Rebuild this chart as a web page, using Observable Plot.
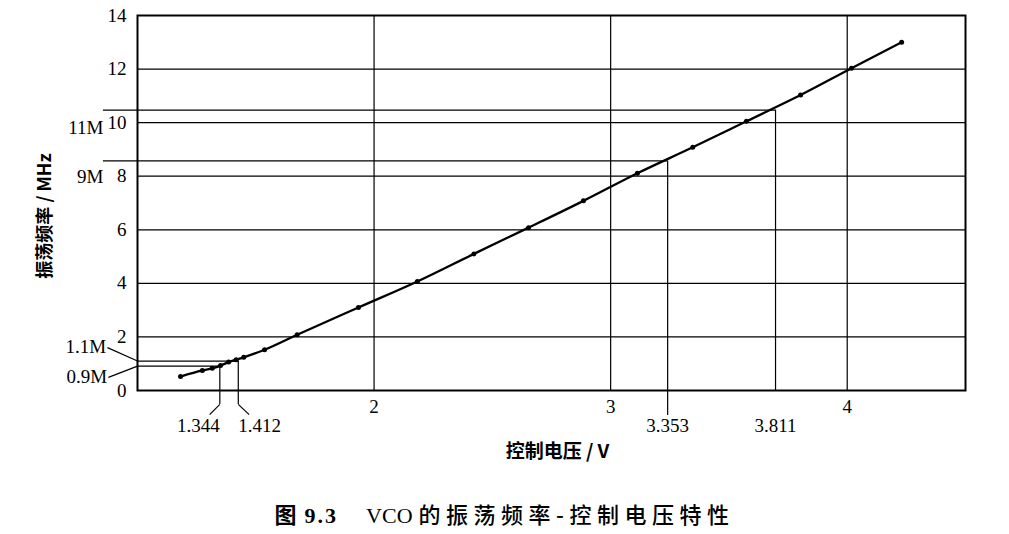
<!DOCTYPE html>
<html>
<head>
<meta charset="utf-8">
<script src="https://cdn.jsdelivr.net/npm/d3@7"></script>
<script src="https://cdn.jsdelivr.net/npm/@observablehq/plot@0.6"></script>
<style>
  html, body { margin: 0; padding: 0; background: #fff; }
  #wrap { width: 1009px; height: 534px; position: relative; overflow: hidden; }
  #caption {
    position: absolute; left: 0; top: 480px; width: 1009px; height: 54px;
    text-align: center; color: #000; white-space: nowrap;
    line-height: 26px; padding-top: 20px; box-sizing: border-box;
  }
  #caption .fig { font-family: "Noto Sans CJK SC", sans-serif; font-weight: 700; font-size: 22px; margin-right: 8px; }
  #caption .num { font-family: "Liberation Serif", serif; font-weight: 700; font-size: 22px; letter-spacing: 2px; }
  #caption .latin { font-family: "Liberation Serif", serif; font-size: 22px; margin-left: 28px; margin-right: 6px; }
  #caption .cjk { font-family: "Noto Sans CJK SC", sans-serif; font-weight: 500; font-size: 22px; letter-spacing: 5.5px; }
</style>
</head>
<body>
<div id="wrap">
  <div id="chart"></div>
  <div id="caption"><span class="fig">图</span><span class="num">9.3</span><span class="latin">VCO</span><span class="cjk">的振荡频率-控制电压特性</span></div>
</div>
<script>
// ---- measured curve (control voltage in V, oscillation frequency in MHz) ----
const voltage   = [1.182, 1.274, 1.316, 1.351, 1.385, 1.417, 1.449, 1.537, 1.675, 1.934, 2.183, 2.422, 2.653, 2.885, 3.113, 3.347, 3.574, 3.803, 4.018, 4.230];
const frequency = [0.52, 0.75, 0.83, 0.93, 1.06, 1.15, 1.24, 1.52, 2.08, 3.10, 4.07, 5.10, 6.08, 7.08, 8.11, 9.08, 10.05, 11.03, 12.03, 13.00];

// ---- axes ----
const xDomain = [1, 4.5];
const yDomain = [0, 14];
const xTicks = [2, 3, 4];
const yTicks = [0, 2, 4, 6, 8, 10, 12, 14];
const xTickLabels = ["2", "3", "4"];
const yTickLabels = ["0", "2", "4", "6", "8", "10", "12", "14"];
const xGrid = [2, 3, 4];
const yGrid = [2, 4, 6, 8, 10, 12];
const xTitle = "控制电压 / V";
const yTitle = "振荡频率 / MHz";

// ---- guide lines as drawn in the figure ----
// horizontal guides: frequency level, start voltage, end voltage
const hGuideFreq = [1.10, 0.91, 10.47, 8.57];
const hGuideFrom = [1.0, 1.0, 0.856, 0.856];
const hGuideTo   = [1.426, 1.348, 3.697, 3.241];
// vertical guides: voltage, top frequency, bottom frequency
const vGuideVolt   = [1.426, 1.348, 3.697, 3.241];
const vGuideTop    = [1.10, 0.91, 10.47, 8.57];
const vGuideBottom = [-0.52, -0.52, 0, -0.93];
// slanted leader lines (voltage/frequency of both ends)
const leadV1 = [1.426, 1.348, 1.0, 1.0];
const leadF1 = [-0.52, -0.52, 1.10, 0.91];
const leadV2 = [1.472, 1.305, 0.873, 0.877];
const leadF2 = [-0.90, -0.90, 1.60, 0.49];

// callout labels
const labelsRightText = ["1.1M", "0.9M", "11M", "9M", "1.344"];
const labelsRightVolt = [0.868, 0.872, 0.856, 0.856, 1.348];
const labelsRightFreq = [1.62, 0.49, 9.81, 7.99, -1.34];
const labelsLeftText = ["1.412"];
const labelsLeftVolt = [1.426];
const labelsLeftFreq = [-1.34];
const labelsMidText = ["3.353", "3.811"];
const labelsMidVolt = [3.241, 3.697];
const labelsMidFreq = [-1.34, -1.34];

// ---- tables ----
const points = voltage.map((v, i) => ({v, f: frequency[i]}));
const hGuides = hGuideFreq.map((f, i) => ({f, from: hGuideFrom[i], to: hGuideTo[i]}));
const vGuides = vGuideVolt.map((v, i) => ({v, top: vGuideTop[i], bottom: vGuideBottom[i]}));
const leaders = leadV1.map((v, i) => ({v1: v, f1: leadF1[i], v2: leadV2[i], f2: leadF2[i]}));
const lblR = labelsRightText.map((t, i) => ({t, v: labelsRightVolt[i], f: labelsRightFreq[i]}));
const lblL = labelsLeftText.map((t, i) => ({t, v: labelsLeftVolt[i], f: labelsLeftFreq[i]}));
const lblM = labelsMidText.map((t, i) => ({t, v: labelsMidVolt[i], f: labelsMidFreq[i]}));

const serif = "'Liberation Serif', 'Times New Roman', serif";
const cjk = "'Noto Sans CJK SC', sans-serif";

const chart = Plot.plot({
  width: 1009,
  height: 480,
  marginLeft: 137,
  marginRight: 44,
  marginTop: 15,
  marginBottom: 90,
  style: {fontFamily: serif, fontSize: "19px", color: "#000", background: "#fff", overflow: "visible"},
  x: {domain: xDomain},
  y: {domain: yDomain},
  marks: [
    Plot.gridY(yGrid, {stroke: "#000", strokeOpacity: 1, strokeWidth: 1.2}),
    Plot.gridX(xGrid, {stroke: "#000", strokeOpacity: 1, strokeWidth: 1.2}),
    Plot.ruleY(hGuides, {y: "f", x1: "from", x2: "to", stroke: "#000", strokeWidth: 1.2}),
    Plot.ruleX(vGuides, {x: "v", y1: "top", y2: "bottom", stroke: "#000", strokeWidth: 1.2}),
    Plot.link(leaders, {x1: "v1", y1: "f1", x2: "v2", y2: "f2", stroke: "#000", strokeWidth: 1.2}),
    Plot.frame({stroke: "#000", strokeWidth: 2}),
    Plot.line(points, {x: "v", y: "f", curve: "monotone-x", stroke: "#000", strokeWidth: 2.3}),
    Plot.dot(points, {x: "v", y: "f", r: 2.5, fill: "#000", stroke: "none"}),
    Plot.axisY(yTicks, {tickSize: 0, tickPadding: 11, fontSize: 19, fill: "#000", label: null,
      tickFormat: (d) => yTickLabels[yTicks.indexOf(d)]}),
    Plot.axisX(xTicks, {tickSize: 0, tickPadding: 9, fontSize: 19, fill: "#000", label: null,
      tickFormat: (d) => xTickLabels[xTicks.indexOf(d)]}),
    Plot.text(lblR, {x: "v", y: "f", text: "t", textAnchor: "end", fontSize: 19, fill: "#000"}),
    Plot.text(lblL, {x: "v", y: "f", text: "t", textAnchor: "start", fontSize: 19, fill: "#000"}),
    Plot.text(lblM, {x: "v", y: "f", text: "t", textAnchor: "middle", fontSize: 19, fill: "#000"}),
    Plot.text([xTitle], {text: d => d, frameAnchor: "bottom", textAnchor: "middle", lineAnchor: "middle", dx: 6, dy: 61, fontFamily: cjk, fontWeight: "bold", fontSize: 19, fill: "#000"}),
    Plot.text([yTitle], {text: d => d, frameAnchor: "left", textAnchor: "middle", lineAnchor: "middle", rotate: -90, dx: -92, dy: 13, fontFamily: cjk, fontWeight: "bold", fontSize: 18, fill: "#000"})
  ]
});
document.getElementById("chart").appendChild(chart);
</script>
</body>
</html>
